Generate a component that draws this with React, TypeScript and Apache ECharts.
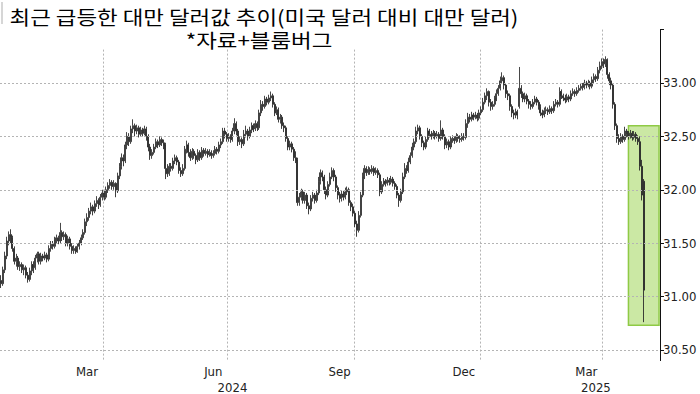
import React, { useEffect, useRef } from "react";
import * as echarts from "echarts";

// ---- texts ----
const titleLine1 = "최근 급등한 대만 달러값 추이(미국 달러 대비 대만 달러)";
const titleLine2 = "*자료+블룸버그";

// ---- x axis (weekday calendar) ----
const firstDay = "2024-01-16";
const axisDayCount = 345;
const monthNames = ["Jan", "Feb", "Mar", "Apr", "May", "Jun", "Jul", "Aug", "Sep", "Oct", "Nov", "Dec"];
const labelledMonths = [2, 5, 8, 11];
const labelDayOfMonth = 19;
const gridMonths = [0, 3, 6, 9];
const yearLabelDates = ["2024-07-03", "2025-03-26"];

// ---- y axis ----
const yMin = 30.4;
const yMax = 33.5;
const yTickValues = [30.5, 31, 31.5, 32, 32.5, 33, 33.5];
const yLabelValues = [30.5, 31, 31.5, 32, 32.5, 33];

// ---- highlighted zone ----
const zoneFrom = "2025-04-18";
const zoneTo = "2025-05-12";
const zoneTop = 32.6;
const zoneBottom = 30.73;

// ---- USD/TWD daily candles: [open, close, low, high] ----
const q1_2024 = [
  [31.15,31.12,31.08,31.2],[31.12,31.25,31.1,31.28],[31.25,31.38,31.22,31.42],[31.38,31.52,31.35,31.56],[31.52,31.58,31.48,31.61],
  [31.58,31.55,31.5,31.63],[31.55,31.45,31.42,31.57],[31.45,31.33,31.3,31.47],[31.33,31.36,31.28,31.4],[31.36,31.28,31.25,31.38],
  [31.28,31.3,31.24,31.33],[31.3,31.25,31.22,31.32],[31.25,31.27,31.2,31.3],[31.27,31.2,31.17,31.29],[31.2,31.16,31.13,31.23],
  [31.16,31.24,31.14,31.27],[31.24,31.3,31.2,31.33],[31.3,31.27,31.22,31.33],[31.27,31.36,31.25,31.39],[31.36,31.4,31.32,31.42],
  [31.4,31.33,31.3,31.42],[31.33,31.38,31.3,31.41],[31.38,31.36,31.33,31.4],[31.36,31.39,31.34,31.42],[31.39,31.35,31.32,31.41],
  [31.35,31.45,31.33,31.48],[31.45,31.49,31.42,31.52],[31.49,31.47,31.44,31.52],[31.47,31.53,31.45,31.56],[31.53,31.55,31.5,31.58],
  [31.55,31.52,31.49,31.57],[31.52,31.6,31.5,31.69],[31.6,31.56,31.52,31.62],[31.56,31.58,31.53,31.61],[31.58,31.5,31.47,31.6],
  [31.5,31.54,31.47,31.57],[31.54,31.47,31.44,31.56],[31.47,31.43,31.4,31.5],[31.43,31.45,31.4,31.48],[31.45,31.42,31.4,31.47],
  [31.42,31.47,31.41,31.5],[31.47,31.5,31.44,31.53],[31.5,31.55,31.48,31.58],[31.55,31.6,31.53,31.63],[31.6,31.7,31.58,31.73],
  [31.7,31.74,31.66,31.78],[31.74,31.8,31.71,31.83],[31.8,31.84,31.77,31.88],[31.84,31.8,31.76,31.86],[31.8,31.87,31.78,31.9],
  [31.87,31.9,31.84,31.94],[31.9,31.86,31.82,31.92],[31.86,31.93,31.84,31.96],[31.93,31.97,31.9,32.0],
];
const q2_2024 = [
  [31.97,31.93,31.9,32.0],[31.93,32.0,31.91,32.03],[32.0,32.04,31.97,32.07],[32.04,32.07,32.01,32.1],[32.07,32.03,32.0,32.09],
  [32.03,32.06,32.0,32.09],[32.06,31.99,31.93,32.07],[31.99,32.13,31.97,32.16],[32.13,32.22,32.1,32.25],[32.22,32.3,32.19,32.34],
  [32.3,32.27,32.22,32.33],[32.27,32.42,32.25,32.45],[32.42,32.5,32.38,32.54],[32.5,32.45,32.41,32.53],[32.45,32.57,32.43,32.6],
  [32.57,32.6,32.53,32.66],[32.6,32.55,32.5,32.62],[32.55,32.58,32.52,32.61],[32.58,32.52,32.49,32.6],[32.52,32.56,32.5,32.59],
  [32.56,32.53,32.5,32.58],[32.53,32.57,32.51,32.6],[32.57,32.5,32.46,32.59],[32.5,32.4,32.36,32.52],[32.4,32.32,32.28,32.43],
  [32.32,32.35,32.29,32.38],[32.35,32.4,32.33,32.43],[32.4,32.45,32.38,32.48],[32.45,32.42,32.39,32.47],[32.42,32.47,32.4,32.5],
  [32.47,32.44,32.41,32.49],[32.44,32.42,32.38,32.47],[32.42,32.2,32.1,32.44],[32.2,32.15,32.12,32.24],[32.15,32.22,32.13,32.25],
  [32.22,32.2,32.17,32.25],[32.2,32.27,32.18,32.3],[32.27,32.3,32.24,32.33],[32.3,32.26,32.23,32.32],[32.26,32.18,32.15,32.28],
  [32.18,32.15,32.12,32.21],[32.15,32.2,32.13,32.24],[32.2,32.38,32.18,32.41],[32.38,32.42,32.34,32.46],[32.42,32.35,32.31,32.44],
  [32.35,32.3,32.27,32.38],[32.3,32.36,32.28,32.39],[32.36,32.32,32.29,32.38],[32.32,32.28,32.24,32.34],[32.28,32.35,32.26,32.38],
  [32.35,32.3,32.27,32.37],[32.3,32.37,32.28,32.4],[32.37,32.34,32.31,32.39],[32.34,32.36,32.32,32.39],[32.36,32.33,32.3,32.38],
  [32.33,32.35,32.31,32.38],[32.35,32.32,32.29,32.37],[32.32,32.34,32.3,32.37],[32.34,32.38,32.32,32.41],[32.38,32.36,32.33,32.4],
  [32.36,32.42,32.34,32.45],[32.42,32.45,32.39,32.48],[32.45,32.55,32.43,32.58],[32.55,32.52,32.48,32.58],[32.52,32.48,32.45,32.54],
];
const q3_2024 = [
  [32.48,32.5,32.45,32.53],[32.5,32.47,32.44,32.52],[32.47,32.55,32.45,32.58],[32.55,32.62,32.52,32.67],[32.62,32.55,32.51,32.64],
  [32.55,32.45,32.41,32.57],[32.45,32.47,32.42,32.5],[32.47,32.43,32.39,32.49],[32.43,32.52,32.41,32.56],[32.52,32.55,32.49,32.6],
  [32.55,32.5,32.46,32.57],[32.5,32.56,32.48,32.59],[32.56,32.6,32.53,32.63],[32.6,32.57,32.54,32.62],[32.57,32.62,32.55,32.65],
  [32.62,32.58,32.55,32.64],[32.58,32.72,32.56,32.75],[32.72,32.8,32.69,32.84],[32.8,32.78,32.74,32.83],[32.78,32.85,32.76,32.88],
  [32.85,32.82,32.79,32.87],[32.82,32.86,32.8,32.89],[32.86,32.88,32.83,32.92],[32.88,32.8,32.77,32.9],[32.8,32.72,32.69,32.82],
  [32.72,32.75,32.7,32.78],[32.75,32.66,32.63,32.77],[32.66,32.68,32.62,32.71],[32.68,32.6,32.57,32.7],[32.6,32.58,32.54,32.63],
  [32.58,32.48,32.45,32.6],[32.48,32.4,32.37,32.5],[32.4,32.43,32.37,32.46],[32.43,32.38,32.35,32.45],[32.38,32.3,32.27,32.4],
  [32.3,32.28,32.25,32.36],[32.28,31.88,31.85,32.3],[31.88,31.93,31.85,31.97],[31.93,31.98,31.9,32.01],[31.98,31.9,31.87,32.0],
  [31.9,31.95,31.87,31.98],[31.95,31.85,31.82,31.97],[31.85,31.82,31.77,31.88],[31.82,31.92,31.8,31.95],[31.92,31.95,31.89,31.98],
  [31.95,31.9,31.87,31.97],[31.9,31.97,31.88,32.0],[31.97,32.08,31.95,32.12],[32.08,32.16,32.05,32.19],[32.16,32.12,32.08,32.18],
  [32.12,32.0,31.96,32.14],[32.0,31.95,31.91,32.03],[31.95,32.05,31.93,32.08],[32.05,32.12,32.03,32.16],[32.12,32.18,32.1,32.21],
  [32.18,32.12,32.08,32.2],[32.12,32.02,31.98,32.14],[32.02,31.95,31.91,32.04],[31.95,31.92,31.88,31.98],[31.92,31.96,31.89,31.99],
  [31.96,31.93,31.9,31.99],[31.93,31.98,31.91,32.02],[31.98,32.0,31.95,32.03],[32.0,31.88,31.85,32.02],[31.88,31.84,31.8,31.9],
  [31.84,31.78,31.75,31.87],
];
const q4_2024 = [
  [31.78,31.68,31.65,31.8],[31.68,31.62,31.56,31.71],[31.62,31.76,31.6,31.8],[31.76,31.95,31.74,31.98],[31.95,32.12,31.93,32.16],
  [32.12,32.2,32.1,32.23],[32.2,32.16,32.13,32.22],[32.16,32.19,32.14,32.22],[32.19,32.17,32.14,32.21],[32.17,32.2,32.15,32.23],
  [32.2,32.16,32.13,32.22],[32.16,32.18,32.14,32.21],[32.18,32.14,32.11,32.2],[32.14,31.98,31.94,32.16],[31.98,32.05,31.96,32.08],
  [32.05,32.08,32.03,32.11],[32.08,32.06,32.03,32.1],[32.06,32.09,32.04,32.12],[32.09,32.07,32.04,32.11],[32.07,32.1,32.05,32.13],
  [32.1,32.06,32.03,32.12],[32.06,32.03,32.0,32.08],[32.03,31.95,31.92,32.05],[31.95,31.9,31.84,31.97],[31.9,31.98,31.88,32.01],
  [31.98,32.12,31.96,32.16],[32.12,32.2,32.1,32.25],[32.2,32.18,32.15,32.23],[32.18,32.26,32.16,32.3],[32.26,32.32,32.24,32.35],
  [32.32,32.4,32.3,32.44],[32.4,32.45,32.37,32.48],[32.45,32.55,32.43,32.59],[32.55,32.58,32.52,32.61],[32.58,32.5,32.47,32.6],
  [32.5,32.44,32.4,32.52],[32.44,32.4,32.37,32.46],[32.4,32.47,32.38,32.5],[32.47,32.55,32.45,32.58],[32.55,32.52,32.49,32.57],
  [32.52,32.5,32.47,32.55],[32.5,32.53,32.48,32.56],[32.53,32.5,32.47,32.55],[32.5,32.52,32.48,32.55],[32.52,32.48,32.45,32.54],
  [32.48,32.56,32.46,32.65],[32.56,32.5,32.47,32.58],[32.5,32.42,32.38,32.52],[32.42,32.45,32.39,32.48],[32.45,32.4,32.37,32.47],
  [32.4,32.47,32.38,32.5],[32.47,32.48,32.44,32.51],[32.48,32.46,32.43,32.5],[32.46,32.5,32.44,32.53],[32.5,32.48,32.45,32.52],
  [32.48,32.47,32.44,32.51],[32.47,32.5,32.45,32.53],[32.5,32.49,32.46,32.53],[32.49,32.62,32.47,32.66],[32.62,32.68,32.58,32.72],
  [32.68,32.66,32.63,32.71],[32.66,32.7,32.64,32.73],[32.7,32.68,32.65,32.72],[32.68,32.7,32.66,32.73],[32.7,32.67,32.64,32.72],
  [32.67,32.72,32.65,32.75],
];
const ytd_2025 = [
  [32.72,32.75,32.7,32.78],[32.75,32.82,32.73,32.86],[32.82,32.88,32.8,32.91],[32.88,32.92,32.84,32.95],[32.92,32.82,32.78,32.93],
  [32.82,32.78,32.74,32.85],[32.78,32.8,32.75,32.83],[32.8,32.85,32.78,32.88],[32.85,32.9,32.83,32.94],[32.9,32.95,32.88,32.98],
  [32.95,33.02,32.93,33.06],[33.02,33.05,32.99,33.1],[33.05,32.98,32.94,33.07],[32.98,32.9,32.86,33.0],[32.9,32.88,32.84,32.93],
  [32.88,32.78,32.74,32.9],[32.78,32.72,32.68,32.8],[32.72,32.7,32.66,32.75],[32.7,32.73,32.67,32.76],[32.73,32.7,32.66,32.75],
  [32.78,32.95,32.76,33.15],[32.95,32.9,32.86,32.98],[32.9,32.85,32.82,32.92],[32.85,32.88,32.82,32.91],[32.88,32.83,32.8,32.9],
  [32.83,32.8,32.76,32.85],[32.8,32.78,32.75,32.83],[32.78,32.82,32.76,32.85],[32.82,32.85,32.8,32.88],[32.85,32.82,32.79,32.87],
  [32.82,32.78,32.75,32.84],[32.78,32.72,32.69,32.8],[32.72,32.7,32.67,32.75],[32.7,32.74,32.68,32.77],[32.74,32.75,32.71,32.78],
  [32.75,32.73,32.7,32.77],[32.73,32.76,32.71,32.79],[32.76,32.74,32.71,32.78],[32.74,32.8,32.72,32.83],[32.8,32.82,32.78,32.85],
  [32.82,32.8,32.77,32.84],[32.8,32.92,32.78,32.96],[32.92,32.88,32.85,32.94],[32.88,32.86,32.83,32.9],[32.86,32.84,32.81,32.89],
  [32.84,32.87,32.82,32.9],[32.87,32.85,32.82,32.89],[32.85,32.9,32.83,32.93],[32.9,32.92,32.88,32.95],[32.92,32.9,32.87,32.94],
  [32.9,32.93,32.88,32.96],[32.93,32.95,32.91,32.98],[32.95,32.97,32.93,33.0],[32.97,32.96,32.93,33.0],[32.96,33.0,32.94,33.03],
  [33.0,32.98,32.95,33.02],[32.98,33.0,32.96,33.03],[33.0,32.97,32.94,33.02],[32.97,33.03,32.95,33.06],[33.03,33.06,33.0,33.09],
  [33.06,33.04,33.01,33.08],[33.04,33.12,33.02,33.15],[33.12,33.16,33.09,33.2],[33.16,33.2,33.13,33.23],[33.2,33.18,33.14,33.23],
  [33.18,33.22,33.15,33.25],[33.22,33.08,33.04,33.23],[33.08,33.02,32.98,33.1],[33.02,32.98,32.94,33.05],[32.98,32.8,32.76,33.0],
  [32.8,32.6,32.56,32.82],[32.6,32.48,32.44,32.62],[32.48,32.45,32.42,32.52],[32.45,32.5,32.43,32.53],[32.5,32.47,32.44,32.52],
  [32.47,32.55,32.45,32.59],[32.55,32.52,32.49,32.57],[32.52,32.5,32.47,32.55],[32.5,32.53,32.48,32.56],[32.53,32.49,32.46,32.55],
  [32.49,32.52,32.47,32.55],[32.52,32.48,32.45,32.54],[32.48,32.45,32.42,32.51],[32.45,32.22,32.18,32.5],[32.22,31.95,31.9,32.28],
  [32.08,31.06,30.76,32.1],
];

function weekdays(start: string, n: number): string[] {
  const out: string[] = [];
  const d = new Date(start + "T00:00:00Z");
  while (out.length < n) {
    const wd = d.getUTCDay();
    if (wd !== 0 && wd !== 6) out.push(d.toISOString().slice(0, 10));
    d.setUTCDate(d.getUTCDate() + 1);
  }
  return out;
}

export default function App() {
  const ref = useRef<HTMLDivElement>(null);
  useEffect(() => {
    if (!ref.current) return;
    const chart = echarts.init(ref.current, null, { renderer: "svg" });
    const days = weekdays(firstDay, axisDayCount);
    const candles = [...q1_2024, ...q2_2024, ...q3_2024, ...q4_2024, ...ytd_2025];
    const monthOf = (s: string) => Number(s.slice(5, 7)) - 1;
    const dayOf = (s: string) => Number(s.slice(8, 10));
    const isMonthLabel = (i: number) => {
      const s = days[i];
      if (!s || !labelledMonths.includes(monthOf(s))) return false;
      if (dayOf(s) < labelDayOfMonth) return false;
      const p = days[i - 1];
      return !p || monthOf(p) !== monthOf(s) || dayOf(p) < labelDayOfMonth;
    };
    const isGridStart = (i: number) => {
      const s = days[i];
      const p = days[i - 1];
      return !!p && monthOf(p) !== monthOf(s) && gridMonths.includes(monthOf(s));
    };
    const labelFont = { fontFamily: "'DejaVu Sans Condensed', 'Liberation Sans', sans-serif", fontSize: 13, color: "#222" };
    const gridLine = { color: "#b4b4b4", type: [2, 2], width: 1 };
    const titleStyle = {
      fill: "#000",
      fontSize: 19.5,
      fontFamily: "'Noto Sans CJK KR', sans-serif",
      align: "center",
      verticalAlign: "middle",
    };

    chart.setOption({
      animation: false,
      backgroundColor: "#ffffff",
      grid: { left: 0, right: 40, top: 29.6, bottom: 33.4, containLabel: false },
      xAxis: [
        {
          type: "category",
          data: days,
          boundaryGap: true,
          axisLine: { show: false },
          axisTick: { show: false },
          axisLabel: {
            ...labelFont,
            margin: 4,
            interval: (i: number) => isMonthLabel(i),
            formatter: (v: string) => monthNames[monthOf(v)],
          },
          splitLine: {
            show: true,
            interval: (i: number) => isGridStart(i),
            lineStyle: gridLine,
          },
        },
        {
          type: "category",
          data: days,
          position: "bottom",
          offset: 16,
          boundaryGap: true,
          axisLine: { show: false },
          axisTick: { show: false },
          splitLine: { show: false },
          axisLabel: {
            ...labelFont,
            margin: 4,
            interval: (_i: number, v: string) => yearLabelDates.includes(v),
            formatter: (v: string) => v.slice(0, 4),
          },
        },
      ],
      yAxis: {
        type: "value",
        position: "right",
        min: yMin,
        max: yMax,
        scale: true,
        axisLine: { show: true, lineStyle: { color: "#111", width: 1 } },
        axisTick: { show: true, inside: false, length: 4, customValues: yTickValues, lineStyle: { color: "#111" } },
        axisLabel: {
          ...labelFont,
          margin: 3,
          customValues: yLabelValues,
          formatter: (v: number) => v.toFixed(2),
        },
        splitLine: { show: false },
      },
      series: [
        {
          type: "candlestick",
          xAxisIndex: 0,
          data: candles,
          barWidth: 1.5,
          itemStyle: {
            color: "#9a9a9a",
            color0: "#2a2a2a",
            borderColor: "#333",
            borderColor0: "#2a2a2a",
            borderWidth: 0.9,
          },
          markLine: {
            silent: true,
            symbol: ["none", "none"],
            label: { show: false },
            lineStyle: gridLine,
            data: yLabelValues.map((v) => ({ yAxis: v })),
          },
          markArea: {
            silent: true,
            itemStyle: {
              color: "rgba(160, 214, 90, 0.55)",
              borderColor: "#8fca45",
              borderWidth: 1.5,
            },
            data: [[{ coord: [zoneFrom, zoneTop] }, { coord: [zoneTo, zoneBottom] }]],
          },
        },
      ],
      graphic: [
        { type: "rect", z: 100, shape: { x: 6, y: 0, width: 518, height: 49 }, style: { fill: "#ffffff" } },
        { type: "line", z: 101, shape: { x1: 2, y1: 2, x2: 2, y2: 24 }, style: { stroke: "#c8c8c8", lineWidth: 1.5 } },
        { type: "text", z: 101, x: 264, y: 16.5, scaleX: 1.15, style: { ...titleStyle, text: titleLine1 } },
        { type: "text", z: 101, x: 259, y: 40, scaleX: 1.15, style: { ...titleStyle, text: titleLine2 } },
      ],
    });
    return () => chart.dispose();
  }, []);
  return <div ref={ref} style={{ width: 700, height: 394, position: "absolute", left: 0, top: 0 }} />;
}
